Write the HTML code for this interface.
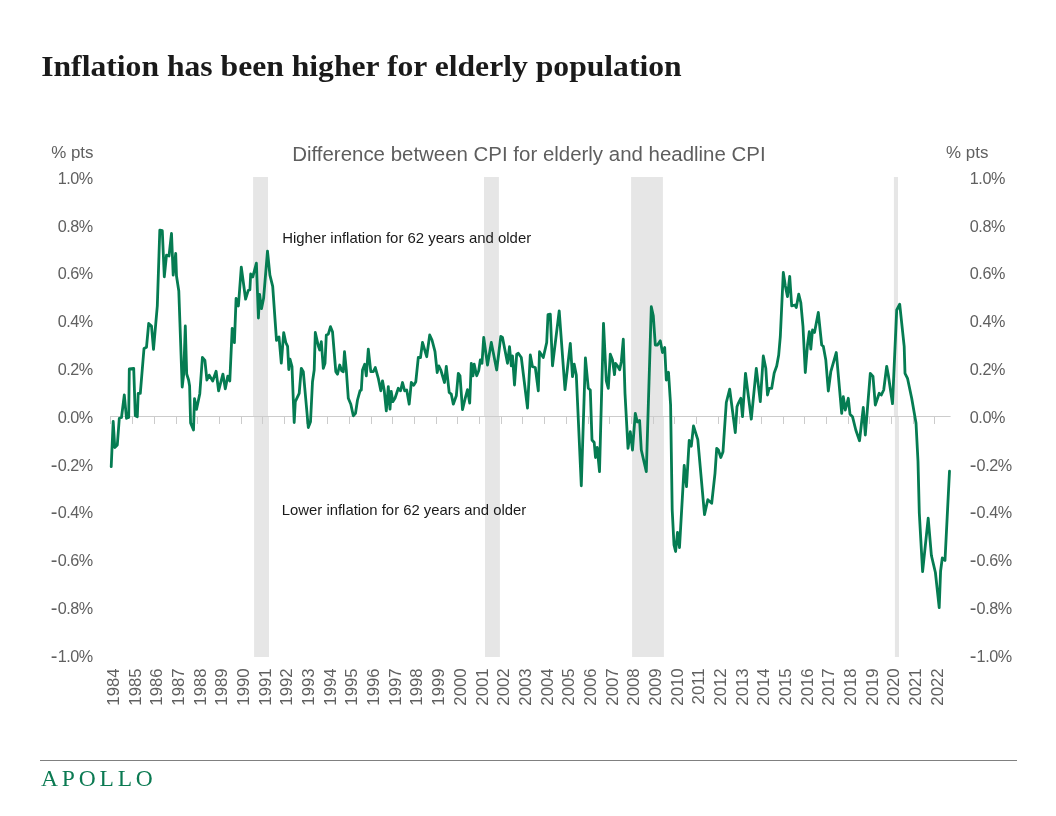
<!DOCTYPE html>
<html><head><meta charset="utf-8">
<style>
html,body{margin:0;padding:0;background:#fff;}
body{width:1056px;height:816px;overflow:hidden;position:relative;}
svg{position:absolute;left:0;top:0;}
.ax{font-family:"Liberation Sans", Arial, sans-serif;font-size:16.2px;fill:#606060;}
.xl{font-size:16.8px;}
.yl{letter-spacing:-0.45px;}
</style></head>
<body>
<svg width="1056" height="816" viewBox="0 0 1056 816">
<text x="41.2" y="75.7" font-family='"Liberation Serif", "Times New Roman", serif' font-weight="bold" font-size="29.5px" fill="#1a1a1a" textLength="640.5" lengthAdjust="spacingAndGlyphs">Inflation has been higher for elderly population</text>
<text x="292.2" y="160.6" font-family='"Liberation Sans", Arial, sans-serif' font-size="20.5px" fill="#5e5e5e" textLength="473.4" lengthAdjust="spacingAndGlyphs">Difference between CPI for elderly and headline CPI</text>
<text x="51.2" y="157.8" class="ax" textLength="42.3" lengthAdjust="spacingAndGlyphs">% pts</text>
<text x="946.1" y="157.8" class="ax" textLength="42.3" lengthAdjust="spacingAndGlyphs">% pts</text>
<rect x="253.1" y="177" width="14.9" height="239.5" fill="#e6e6e6"/>
<rect x="254.1" y="416.5" width="14.9" height="240.5" fill="#e6e6e6"/>
<rect x="484.0" y="177" width="14.9" height="239.5" fill="#e6e6e6"/>
<rect x="485.0" y="416.5" width="14.9" height="240.5" fill="#e6e6e6"/>
<rect x="631.1" y="177" width="31.8" height="239.5" fill="#e6e6e6"/>
<rect x="632.1" y="416.5" width="31.8" height="240.5" fill="#e6e6e6"/>
<rect x="893.9" y="177" width="4.1" height="239.5" fill="#e6e6e6"/>
<rect x="894.9" y="416.5" width="4.1" height="240.5" fill="#e6e6e6"/>
<line x1="110" y1="416.5" x2="950.6" y2="416.5" stroke="#cccccc" stroke-width="1"/>
<path d="M110.5 416.5V424.0 M132.5 416.5V424.0 M154.5 416.5V424.0 M176.5 416.5V424.0 M197.5 416.5V424.0 M219.5 416.5V424.0 M241.5 416.5V424.0 M262.5 416.5V424.0 M284.5 416.5V424.0 M306.5 416.5V424.0 M327.5 416.5V424.0 M349.5 416.5V424.0 M371.5 416.5V424.0 M392.5 416.5V424.0 M414.5 416.5V424.0 M436.5 416.5V424.0 M457.5 416.5V424.0 M479.5 416.5V424.0 M501.5 416.5V424.0 M522.5 416.5V424.0 M544.5 416.5V424.0 M566.5 416.5V424.0 M588.5 416.5V424.0 M609.5 416.5V424.0 M631.5 416.5V424.0 M653.5 416.5V424.0 M674.5 416.5V424.0 M696.5 416.5V424.0 M718.5 416.5V424.0 M739.5 416.5V424.0 M761.5 416.5V424.0 M783.5 416.5V424.0 M804.5 416.5V424.0 M826.5 416.5V424.0 M848.5 416.5V424.0 M869.5 416.5V424.0 M891.5 416.5V424.0 M913.5 416.5V424.0 M934.5 416.5V424.0" stroke="#cccccc" stroke-width="1" fill="none"/>
<polyline points="111.2,466.7 113.2,421.3 114.8,447.5 117.3,445.0 119.3,418.3 121.5,417.5 124.3,395.0 126.5,418.3 128.7,417.5 129.3,369.0 133.7,368.3 135.3,415.8 137.3,416.7 138.2,393.3 140.3,393.3 144.0,348.5 146.5,347.2 148.7,323.5 151.5,326.0 153.5,349.3 157.3,306.0 159.8,230.2 162.3,230.7 164.3,276.8 166.5,255.2 169.0,256.0 171.5,233.5 173.2,275.2 175.7,253.5 176.5,276.0 178.8,291.0 182.2,387.0 183.7,374.0 185.3,326.0 186.7,374.0 188.6,380.0 189.6,386.0 190.6,423.0 193.5,430.0 194.5,398.6 196.5,409.4 199.8,393.7 202.4,357.5 204.9,360.4 206.9,380.0 209.2,375.1 212.7,381.0 216.1,371.2 218.6,390.8 222.9,374.1 225.3,388.8 227.8,376.1 229.8,381.0 232.2,328.3 234.4,342.6 236.1,298.3 238.4,306.0 241.3,267.1 245.6,299.2 248.2,290.6 249.9,289.7 250.7,274.0 252.8,276.9 256.4,263.2 258.4,318.0 259.6,294.5 261.5,308.6 263.6,298.3 267.5,251.1 269.9,275.2 272.7,286.3 276.5,340.3 279.0,336.9 281.3,363.2 283.7,332.6 285.8,342.5 287.6,346.3 288.8,369.5 290.0,359.2 292.0,366.7 294.2,422.5 295.3,401.7 299.2,393.3 301.3,368.3 303.3,371.7 308.3,427.5 310.5,421.7 312.5,381.7 314.2,370.0 315.3,332.5 318.3,345.8 319.7,350.0 321.3,341.7 323.3,368.3 325.0,363.3 326.3,335.0 328.3,334.2 330.5,326.7 332.5,331.7 335.8,371.7 337.5,374.2 339.7,365.0 341.7,370.8 343.3,371.7 344.5,351.7 346.3,370.0 348.3,398.3 350.8,404.2 353.3,415.8 355.5,413.3 357.5,400.0 360.0,390.8 361.3,390.0 362.5,370.0 364.7,364.2 366.3,375.8 368.3,349.2 370.8,371.7 373.3,371.7 375.3,367.5 378.3,378.3 380.8,390.8 382.5,380.8 384.2,390.0 386.3,410.8 388.3,386.7 390.0,409.2 391.2,391.3 392.8,401.7 395.0,398.3 398.3,388.3 400.5,390.8 402.5,382.5 404.7,390.8 406.7,390.0 409.2,404.2 411.3,382.5 413.7,385.3 415.8,381.7 418.3,357.5 420.5,357.5 422.5,342.5 426.7,356.7 429.7,335.0 432.0,340.0 435.0,351.7 437.2,372.5 438.8,365.8 440.8,370.0 444.5,382.5 446.3,366.3 449.2,392.5 451.3,394.2 453.3,404.2 456.3,395.8 458.3,373.3 460.0,375.8 462.5,409.7 465.0,399.2 467.5,389.7 469.7,403.0 471.3,363.3 473.0,375.8 474.2,364.2 476.7,375.8 478.7,370.8 480.3,360.0 482.0,363.3 483.7,337.5 487.5,365.0 491.3,342.5 496.7,370.0 500.8,336.3 502.5,337.5 507.5,363.3 509.5,346.7 511.3,365.8 512.5,355.8 514.5,385.0 516.7,354.2 518.3,353.3 521.3,357.5 527.5,408.0 530.3,355.0 532.5,366.7 535.3,367.5 538.3,390.8 539.5,351.7 543.3,357.5 546.7,342.5 548.0,314.7 550.3,314.2 552.5,365.8 559.2,310.8 565.0,389.7 570.3,343.3 572.5,376.7 574.2,364.2 576.3,375.0 581.3,485.8 585.4,358.0 588.3,388.3 590.3,390.0 592.0,440.0 594.2,442.5 595.5,457.5 597.2,447.5 599.5,471.7 603.5,323.3 606.3,380.8 608.3,388.3 610.3,354.2 612.5,360.0 614.5,374.7 615.5,363.3 618.0,366.7 619.7,369.7 621.3,361.7 623.3,339.2 625.0,393.3 628.0,448.3 630.3,431.7 632.5,450.0 635.3,413.3 637.3,422.0 639.6,420.5 641.3,450.0 646.3,471.7 651.3,306.7 653.3,315.8 655.3,345.0 657.5,345.0 660.3,340.8 662.5,352.5 664.7,347.5 666.3,380.0 668.5,372.3 670.6,405.0 672.2,510.0 674.0,545.0 675.6,551.5 677.5,532.5 679.5,547.5 684.2,465.5 686.5,486.7 689.2,440.5 691.3,446.2 693.5,426.0 697.8,439.6 704.5,514.7 707.8,499.7 711.7,503.3 715.0,473.3 716.7,448.3 718.3,449.7 720.8,457.5 723.0,451.7 726.3,402.5 729.7,389.2 735.3,432.5 737.0,406.7 738.3,403.3 740.8,398.3 742.5,416.7 745.5,373.3 751.3,419.2 756.3,368.3 760.3,401.7 763.3,356.0 765.8,368.3 767.5,395.0 769.2,388.3 771.7,388.3 774.2,373.0 776.7,366.0 778.7,355.0 780.3,336.7 783.3,272.5 785.3,285.8 787.5,296.7 789.7,276.3 791.7,305.8 795.0,305.0 796.3,307.5 798.7,294.2 800.8,302.5 803.0,326.7 805.3,372.5 807.5,345.0 809.3,331.7 810.8,349.2 812.5,330.0 814.5,332.5 818.3,312.5 821.7,345.0 823.3,346.3 825.8,360.0 828.3,391.0 830.8,371.7 836.3,352.5 841.7,413.3 843.3,396.7 845.3,410.0 848.3,398.3 850.0,414.2 852.5,416.7 855.8,430.0 859.5,440.8 863.3,407.5 865.3,435.0 870.3,373.3 873.0,376.5 875.3,405.0 879.2,393.3 881.3,395.0 883.7,390.0 886.7,366.3 888.3,375.0 892.5,403.7 896.7,310.0 899.7,304.2 904.2,346.7 905.0,373.3 907.5,378.3 911.7,398.3 916.0,422.9 918.0,461.5 919.3,513.0 922.6,571.6 928.2,518.2 931.4,555.5 935.4,572.5 939.2,607.7 940.6,571.0 942.3,558.0 945.0,560.4 949.5,471.2" fill="none" stroke="#057c52" stroke-width="2.8" stroke-linejoin="round" stroke-linecap="round"/>
<text x="92.8" y="183.8" text-anchor="end" class="ax yl">1.0%</text>
<text x="969.8" y="183.8" class="ax yl">1.0%</text>
<text x="92.8" y="231.6" text-anchor="end" class="ax yl">0.8%</text>
<text x="969.8" y="231.6" class="ax yl">0.8%</text>
<text x="92.8" y="279.4" text-anchor="end" class="ax yl">0.6%</text>
<text x="969.8" y="279.4" class="ax yl">0.6%</text>
<text x="92.8" y="327.2" text-anchor="end" class="ax yl">0.4%</text>
<text x="969.8" y="327.2" class="ax yl">0.4%</text>
<text x="92.8" y="375.0" text-anchor="end" class="ax yl">0.2%</text>
<text x="969.8" y="375.0" class="ax yl">0.2%</text>
<text x="92.8" y="422.8" text-anchor="end" class="ax yl">0.0%</text>
<text x="969.8" y="422.8" class="ax yl">0.0%</text>
<text x="92.8" y="470.6" text-anchor="end" class="ax yl"><tspan font-size="20px" dy="0.9">-</tspan><tspan dx="0.6" dy="-0.9">0.2%</tspan></text>
<text x="969.8" y="470.6" class="ax yl"><tspan font-size="20px" dy="0.9">-</tspan><tspan dx="0.6" dy="-0.9">0.2%</tspan></text>
<text x="92.8" y="518.4" text-anchor="end" class="ax yl"><tspan font-size="20px" dy="0.9">-</tspan><tspan dx="0.6" dy="-0.9">0.4%</tspan></text>
<text x="969.8" y="518.4" class="ax yl"><tspan font-size="20px" dy="0.9">-</tspan><tspan dx="0.6" dy="-0.9">0.4%</tspan></text>
<text x="92.8" y="566.2" text-anchor="end" class="ax yl"><tspan font-size="20px" dy="0.9">-</tspan><tspan dx="0.6" dy="-0.9">0.6%</tspan></text>
<text x="969.8" y="566.2" class="ax yl"><tspan font-size="20px" dy="0.9">-</tspan><tspan dx="0.6" dy="-0.9">0.6%</tspan></text>
<text x="92.8" y="614.0" text-anchor="end" class="ax yl"><tspan font-size="20px" dy="0.9">-</tspan><tspan dx="0.6" dy="-0.9">0.8%</tspan></text>
<text x="969.8" y="614.0" class="ax yl"><tspan font-size="20px" dy="0.9">-</tspan><tspan dx="0.6" dy="-0.9">0.8%</tspan></text>
<text x="92.8" y="661.8" text-anchor="end" class="ax yl"><tspan font-size="20px" dy="0.9">-</tspan><tspan dx="0.6" dy="-0.9">1.0%</tspan></text>
<text x="969.8" y="661.8" class="ax yl"><tspan font-size="20px" dy="0.9">-</tspan><tspan dx="0.6" dy="-0.9">1.0%</tspan></text>
<text transform="translate(118.9,668.3) rotate(-90)" text-anchor="end" class="ax xl">1984</text>
<text transform="translate(140.6,668.3) rotate(-90)" text-anchor="end" class="ax xl">1985</text>
<text transform="translate(162.3,668.3) rotate(-90)" text-anchor="end" class="ax xl">1986</text>
<text transform="translate(183.9,668.3) rotate(-90)" text-anchor="end" class="ax xl">1987</text>
<text transform="translate(205.6,668.3) rotate(-90)" text-anchor="end" class="ax xl">1988</text>
<text transform="translate(227.3,668.3) rotate(-90)" text-anchor="end" class="ax xl">1989</text>
<text transform="translate(249.0,668.3) rotate(-90)" text-anchor="end" class="ax xl">1990</text>
<text transform="translate(270.7,668.3) rotate(-90)" text-anchor="end" class="ax xl">1991</text>
<text transform="translate(292.3,668.3) rotate(-90)" text-anchor="end" class="ax xl">1992</text>
<text transform="translate(314.0,668.3) rotate(-90)" text-anchor="end" class="ax xl">1993</text>
<text transform="translate(335.7,668.3) rotate(-90)" text-anchor="end" class="ax xl">1994</text>
<text transform="translate(357.4,668.3) rotate(-90)" text-anchor="end" class="ax xl">1995</text>
<text transform="translate(379.1,668.3) rotate(-90)" text-anchor="end" class="ax xl">1996</text>
<text transform="translate(400.7,668.3) rotate(-90)" text-anchor="end" class="ax xl">1997</text>
<text transform="translate(422.4,668.3) rotate(-90)" text-anchor="end" class="ax xl">1998</text>
<text transform="translate(444.1,668.3) rotate(-90)" text-anchor="end" class="ax xl">1999</text>
<text transform="translate(465.8,668.3) rotate(-90)" text-anchor="end" class="ax xl">2000</text>
<text transform="translate(487.5,668.3) rotate(-90)" text-anchor="end" class="ax xl">2001</text>
<text transform="translate(509.1,668.3) rotate(-90)" text-anchor="end" class="ax xl">2002</text>
<text transform="translate(530.8,668.3) rotate(-90)" text-anchor="end" class="ax xl">2003</text>
<text transform="translate(552.5,668.3) rotate(-90)" text-anchor="end" class="ax xl">2004</text>
<text transform="translate(574.2,668.3) rotate(-90)" text-anchor="end" class="ax xl">2005</text>
<text transform="translate(595.9,668.3) rotate(-90)" text-anchor="end" class="ax xl">2006</text>
<text transform="translate(617.5,668.3) rotate(-90)" text-anchor="end" class="ax xl">2007</text>
<text transform="translate(639.2,668.3) rotate(-90)" text-anchor="end" class="ax xl">2008</text>
<text transform="translate(660.9,668.3) rotate(-90)" text-anchor="end" class="ax xl">2009</text>
<text transform="translate(682.6,668.3) rotate(-90)" text-anchor="end" class="ax xl">2010</text>
<text transform="translate(704.3,668.3) rotate(-90)" text-anchor="end" class="ax xl">2011</text>
<text transform="translate(725.9,668.3) rotate(-90)" text-anchor="end" class="ax xl">2012</text>
<text transform="translate(747.6,668.3) rotate(-90)" text-anchor="end" class="ax xl">2013</text>
<text transform="translate(769.3,668.3) rotate(-90)" text-anchor="end" class="ax xl">2014</text>
<text transform="translate(791.0,668.3) rotate(-90)" text-anchor="end" class="ax xl">2015</text>
<text transform="translate(812.7,668.3) rotate(-90)" text-anchor="end" class="ax xl">2016</text>
<text transform="translate(834.3,668.3) rotate(-90)" text-anchor="end" class="ax xl">2017</text>
<text transform="translate(856.0,668.3) rotate(-90)" text-anchor="end" class="ax xl">2018</text>
<text transform="translate(877.7,668.3) rotate(-90)" text-anchor="end" class="ax xl">2019</text>
<text transform="translate(899.4,668.3) rotate(-90)" text-anchor="end" class="ax xl">2020</text>
<text transform="translate(921.1,668.3) rotate(-90)" text-anchor="end" class="ax xl">2021</text>
<text transform="translate(942.7,668.3) rotate(-90)" text-anchor="end" class="ax xl">2022</text>
<text x="282.2" y="242.6" font-family='"Liberation Sans", Arial, sans-serif' font-size="15px" fill="#1a1a1a" textLength="249" lengthAdjust="spacingAndGlyphs">Higher inflation for 62 years and older</text>
<text x="281.8" y="514.9" font-family='"Liberation Sans", Arial, sans-serif' font-size="15px" fill="#1a1a1a" textLength="244.5" lengthAdjust="spacingAndGlyphs">Lower inflation for 62 years and older</text>
<line x1="40" y1="760.5" x2="1017" y2="760.5" stroke="#808080" stroke-width="1"/>
<text x="41.1" y="785.7" font-family='"Liberation Serif", "Times New Roman", serif' font-size="23.5px" fill="#0b7a52" letter-spacing="3.8">APOLLO</text>
</svg>
</body></html>
